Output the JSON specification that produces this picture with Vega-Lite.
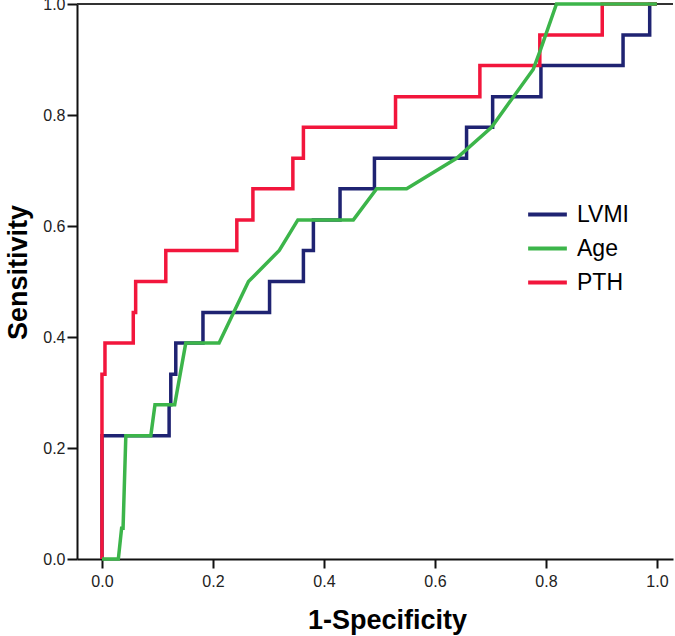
{
  "$schema": "https://vega.github.io/schema/vega-lite/v6.json",
  "width": 596,
  "height": 555,
  "autosize": {"type": "none"},
  "padding": {"left": 77, "top": 4, "right": 2, "bottom": 77},
  "background": "white",
  "config": {
    "font": "Liberation Sans",
    "view": {"stroke": null}
  },
  "data": {
    "values": [
      {"series": "LVMI", "i": 1, "fpr": 0, "tpr": 0},
      {"series": "LVMI", "i": 2, "fpr": 0, "tpr": 0.222},
      {"series": "LVMI", "i": 3, "fpr": 0.121, "tpr": 0.222},
      {"series": "LVMI", "i": 4, "fpr": 0.121, "tpr": 0.278},
      {"series": "LVMI", "i": 5, "fpr": 0.124, "tpr": 0.278},
      {"series": "LVMI", "i": 6, "fpr": 0.124, "tpr": 0.333},
      {"series": "LVMI", "i": 7, "fpr": 0.133, "tpr": 0.333},
      {"series": "LVMI", "i": 8, "fpr": 0.133, "tpr": 0.389},
      {"series": "LVMI", "i": 9, "fpr": 0.182, "tpr": 0.389},
      {"series": "LVMI", "i": 10, "fpr": 0.182, "tpr": 0.444},
      {"series": "LVMI", "i": 11, "fpr": 0.302, "tpr": 0.444},
      {"series": "LVMI", "i": 12, "fpr": 0.302, "tpr": 0.5},
      {"series": "LVMI", "i": 13, "fpr": 0.363, "tpr": 0.5},
      {"series": "LVMI", "i": 14, "fpr": 0.363, "tpr": 0.556},
      {"series": "LVMI", "i": 15, "fpr": 0.381, "tpr": 0.556},
      {"series": "LVMI", "i": 16, "fpr": 0.381, "tpr": 0.611},
      {"series": "LVMI", "i": 17, "fpr": 0.429, "tpr": 0.611},
      {"series": "LVMI", "i": 18, "fpr": 0.429, "tpr": 0.667},
      {"series": "LVMI", "i": 19, "fpr": 0.491, "tpr": 0.667},
      {"series": "LVMI", "i": 20, "fpr": 0.491, "tpr": 0.722},
      {"series": "LVMI", "i": 21, "fpr": 0.657, "tpr": 0.722},
      {"series": "LVMI", "i": 22, "fpr": 0.657, "tpr": 0.778},
      {"series": "LVMI", "i": 23, "fpr": 0.704, "tpr": 0.778},
      {"series": "LVMI", "i": 24, "fpr": 0.704, "tpr": 0.833},
      {"series": "LVMI", "i": 25, "fpr": 0.791, "tpr": 0.833},
      {"series": "LVMI", "i": 26, "fpr": 0.791, "tpr": 0.889},
      {"series": "LVMI", "i": 27, "fpr": 0.939, "tpr": 0.889},
      {"series": "LVMI", "i": 28, "fpr": 0.939, "tpr": 0.944},
      {"series": "LVMI", "i": 29, "fpr": 0.987, "tpr": 0.944},
      {"series": "LVMI", "i": 30, "fpr": 0.987, "tpr": 1},
      {"series": "LVMI", "i": 31, "fpr": 1, "tpr": 1},

      {"series": "Age", "i": 1, "fpr": 0, "tpr": 0},
      {"series": "Age", "i": 2, "fpr": 0.0295, "tpr": 0},
      {"series": "Age", "i": 3, "fpr": 0.0354, "tpr": 0.0556},
      {"series": "Age", "i": 4, "fpr": 0.038, "tpr": 0.0556},
      {"series": "Age", "i": 5, "fpr": 0.043, "tpr": 0.222},
      {"series": "Age", "i": 6, "fpr": 0.088, "tpr": 0.222},
      {"series": "Age", "i": 7, "fpr": 0.0955, "tpr": 0.278},
      {"series": "Age", "i": 8, "fpr": 0.131, "tpr": 0.278},
      {"series": "Age", "i": 9, "fpr": 0.151, "tpr": 0.389},
      {"series": "Age", "i": 10, "fpr": 0.211, "tpr": 0.389},
      {"series": "Age", "i": 11, "fpr": 0.264, "tpr": 0.5},
      {"series": "Age", "i": 12, "fpr": 0.3195, "tpr": 0.556},
      {"series": "Age", "i": 13, "fpr": 0.353, "tpr": 0.611},
      {"series": "Age", "i": 14, "fpr": 0.453, "tpr": 0.611},
      {"series": "Age", "i": 15, "fpr": 0.495, "tpr": 0.667},
      {"series": "Age", "i": 16, "fpr": 0.549, "tpr": 0.667},
      {"series": "Age", "i": 17, "fpr": 0.639, "tpr": 0.722},
      {"series": "Age", "i": 18, "fpr": 0.702, "tpr": 0.778},
      {"series": "Age", "i": 19, "fpr": 0.777, "tpr": 0.882},
      {"series": "Age", "i": 20, "fpr": 0.79, "tpr": 0.917},
      {"series": "Age", "i": 21, "fpr": 0.819, "tpr": 1},
      {"series": "Age", "i": 22, "fpr": 1, "tpr": 1},

      {"series": "PTH", "i": 1, "fpr": 0, "tpr": 0},
      {"series": "PTH", "i": 2, "fpr": 0, "tpr": 0.333},
      {"series": "PTH", "i": 3, "fpr": 0.0054, "tpr": 0.333},
      {"series": "PTH", "i": 4, "fpr": 0.0054, "tpr": 0.389},
      {"series": "PTH", "i": 5, "fpr": 0.0564, "tpr": 0.389},
      {"series": "PTH", "i": 6, "fpr": 0.0564, "tpr": 0.444},
      {"series": "PTH", "i": 7, "fpr": 0.0607, "tpr": 0.444},
      {"series": "PTH", "i": 8, "fpr": 0.0607, "tpr": 0.5},
      {"series": "PTH", "i": 9, "fpr": 0.115, "tpr": 0.5},
      {"series": "PTH", "i": 10, "fpr": 0.115, "tpr": 0.556},
      {"series": "PTH", "i": 11, "fpr": 0.243, "tpr": 0.556},
      {"series": "PTH", "i": 12, "fpr": 0.243, "tpr": 0.611},
      {"series": "PTH", "i": 13, "fpr": 0.272, "tpr": 0.611},
      {"series": "PTH", "i": 14, "fpr": 0.272, "tpr": 0.667},
      {"series": "PTH", "i": 15, "fpr": 0.344, "tpr": 0.667},
      {"series": "PTH", "i": 16, "fpr": 0.344, "tpr": 0.722},
      {"series": "PTH", "i": 17, "fpr": 0.363, "tpr": 0.722},
      {"series": "PTH", "i": 18, "fpr": 0.363, "tpr": 0.778},
      {"series": "PTH", "i": 19, "fpr": 0.529, "tpr": 0.778},
      {"series": "PTH", "i": 20, "fpr": 0.529, "tpr": 0.833},
      {"series": "PTH", "i": 21, "fpr": 0.681, "tpr": 0.833},
      {"series": "PTH", "i": 22, "fpr": 0.681, "tpr": 0.889},
      {"series": "PTH", "i": 23, "fpr": 0.789, "tpr": 0.889},
      {"series": "PTH", "i": 24, "fpr": 0.789, "tpr": 0.944},
      {"series": "PTH", "i": 25, "fpr": 0.9015, "tpr": 0.944},
      {"series": "PTH", "i": 26, "fpr": 0.9015, "tpr": 1},
      {"series": "PTH", "i": 27, "fpr": 1, "tpr": 1}
    ]
  },
  "layer": [
    {
      "mark": {"type": "rule", "color": "#333333", "strokeWidth": 1.5},
      "encoding": {"y": {"datum": 1, "type": "quantitative", "scale": {"domain": [0, 1]}}}
    },
    {
      "transform": [{"filter": "datum.series === 'LVMI'"}],
      "mark": {"type": "line", "strokeWidth": 3.5},
      "encoding": {
        "x": {"field": "fpr", "type": "quantitative"},
        "y": {"field": "tpr", "type": "quantitative"},
        "order": {"field": "i"},
        "color": {"field": "series"}
      }
    },
    {
      "transform": [{"filter": "datum.series === 'PTH'"}],
      "mark": {"type": "line", "strokeWidth": 3.5},
      "encoding": {
        "x": {"field": "fpr", "type": "quantitative"},
        "y": {"field": "tpr", "type": "quantitative"},
        "order": {"field": "i"},
        "color": {"field": "series"}
      }
    },
    {
      "transform": [{"filter": "datum.series === 'Age'"}],
      "mark": {"type": "line", "strokeWidth": 3.5},
      "encoding": {
        "x": {
          "field": "fpr",
          "type": "quantitative",
          "scale": {"domain": [-0.045, 1.029], "nice": false, "zero": false},
          "title": "1-Specificity",
          "axis": {
            "values": [0, 0.2, 0.4, 0.6, 0.8, 1],
            "format": ".1f",
            "grid": false,
            "domainColor": "#111111",
            "domainWidth": 2,
            "tickColor": "#111111",
            "tickWidth": 2,
            "tickSize": 9,
            "labelFontSize": 16,
            "labelColor": "#222222",
            "labelPadding": 5,
            "titleFontSize": 27,
            "titleFontWeight": "bold",
            "titleColor": "#000000",
            "titleX": 310,
            "titleY": 69,
            "titleBaseline": "alphabetic"
          }
        },
        "y": {
          "field": "tpr",
          "type": "quantitative",
          "scale": {"domain": [0, 1], "nice": false},
          "title": "Sensitivity",
          "axis": {
            "values": [0, 0.2, 0.4, 0.6, 0.8, 1],
            "format": ".1f",
            "grid": false,
            "domainColor": "#111111",
            "domainWidth": 2,
            "tickColor": "#111111",
            "tickWidth": 2,
            "tickSize": 10,
            "labelFontSize": 16,
            "labelColor": "#222222",
            "labelPadding": 2,
            "titleFontSize": 27,
            "titleFontWeight": "bold",
            "titleColor": "#000000",
            "titleX": -51,
            "titleY": 268,
            "titleBaseline": "alphabetic"
          }
        },
        "order": {"field": "i"},
        "color": {
          "field": "series",
          "type": "nominal",
          "scale": {"domain": ["LVMI", "Age", "PTH"], "range": ["#1f2372", "#3cb54a", "#f2163c"]},
          "legend": {
            "title": null,
            "orient": "none",
            "legendX": 449,
            "legendY": 189,
            "symbolType": "stroke",
            "symbolSize": 1500,
            "symbolStrokeWidth": 4,
            "labelFontSize": 23,
            "labelColor": "#000000",
            "labelOffset": 8,
            "rowPadding": -7
          }
        }
      }
    }
  ]
}
